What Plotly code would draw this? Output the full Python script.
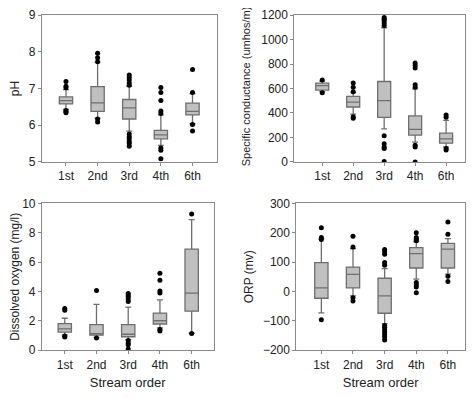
import plotly.graph_objects as go

cats = ["1st", "2nd", "3rd", "4th", "6th"]

# pH
ph_q1 = [6.58, 6.38, 6.17, 5.63, 6.28]
ph_med = [6.67, 6.61, 6.47, 5.74, 6.38]
ph_q3 = [6.77, 7.05, 6.70, 5.86, 6.60]
ph_lo = [6.43, 6.19, 5.84, 5.45, 6.04]
ph_hi = [6.97, 7.71, 7.06, 6.28, 6.86]
ph_out_x = ["1st"]*6 + ["2nd"]*5 + ["3rd"]*11 + ["4th"]*8 + ["6th"]*4
ph_out_y = [7.19, 7.06, 7.02, 6.40, 6.37, 6.34,
            7.96, 7.84, 7.73, 6.17, 6.09,
            7.37, 7.30, 7.23, 7.15, 7.09, 5.76, 5.69, 5.63, 5.56, 5.50, 5.43,
            7.03, 6.89, 6.67, 6.39, 6.32, 5.38, 5.32, 5.09,
            7.52, 6.89, 6.02, 5.84]

# Specific conductance
sc_q1 = [587, 449, 365, 219, 154]
sc_med = [623, 488, 501, 266, 188]
sc_q3 = [644, 535, 657, 376, 235]
sc_lo = [575, 391, 271, 162, 123]
sc_hi = [660, 566, 1096, 597, 339]
sc_out_x = ["1st"]*2 + ["2nd"]*5 + ["3rd"]*10 + ["4th"]*8 + ["6th"]*4
sc_out_y = [670, 565,
            644, 610, 574, 370, 357,
            1179, 1166, 1153, 1135, 1114, 214, 149, 123, 110, 5,
            809, 788, 767, 631, 610, 136, 123, 0,
            384, 365, 110, 97]

# Dissolved oxygen
do_q1 = [1.24, 1.03, 0.92, 1.79, 2.66]
do_med = [1.46, 1.14, 1.09, 2.01, 3.89]
do_q3 = [1.81, 1.75, 1.75, 2.53, 6.88]
do_lo = [1.05, 0.87, 0.72, 1.53, 1.16]
do_hi = [2.18, 3.12, 2.93, 3.43, 8.89]
do_out_x = ["1st"]*4 + ["2nd"]*2 + ["3rd"]*9 + ["4th"]*6 + ["6th"]*2
do_out_y = [2.84, 2.73, 0.98, 0.90,
            4.06, 0.84,
            3.86, 3.76, 3.65, 3.49, 3.32, 0.66, 0.50, 0.37, 0.09,
            5.24, 4.76, 4.04, 3.89, 1.42, 1.31,
            9.28, 1.14]

# ORP
orp_q1 = [-23, 12, -74, 80, 80]
orp_med = [12, 58, -15, 129, 144]
orp_q3 = [98, 83, 45, 149, 164]
orp_lo = [-73, -15, -109, 42, 59]
orp_hi = [179, 146, 78, 170, 180]
orp_out_x = ["1st"]*4 + ["2nd"]*4 + ["3rd"]*12 + ["4th"]*8 + ["6th"]*4
orp_out_y = [217, 184, 177, -96,
             188, 151, -21, -32,
             143, 136, 127, 99, 89, -116, -122, -130, -138, -146, -155, -165,
             200, 184, 178, 173, 31, 23, 15, -4,
             236, 195, 52, 34]

FONT = "Liberation Sans, Arial, sans-serif"
BOX_FILL = "#c0c0c0"
BOX_LINE = "#6e6e6e"
FRAME = "#8a8a8a"

# The page body has an 8px margin, so the figure is 16px smaller than the window.
W, H = 458, 382


def xd(a, b):
    return [max(0, (a - 8) / W), min(1, (b - 8) / W)]


def yd(top, bottom):
    return [max(0, 1 - (bottom - 8) / H), min(1, 1 - (top - 8) / H)]


panels = [
    dict(q1=ph_q1, med=ph_med, q3=ph_q3, lo=ph_lo, hi=ph_hi, ox=ph_out_x, oy=ph_out_y,
         xd=xd(42, 217), yd=yd(7, 161), xr=[-0.76, 4.76],
         yr=[5, 9], dt=1, title="pH", xtitle=None),
    dict(q1=sc_q1, med=sc_med, q3=sc_q3, lo=sc_lo, hi=sc_hi, ox=sc_out_x, oy=sc_out_y,
         xd=xd(295, 472), yd=yd(7, 161), xr=[-0.9, 4.61],
         yr=[0, 1200], dt=200, title=None, xtitle=None),
    dict(q1=do_q1, med=do_med, q3=do_q3, lo=do_lo, hi=do_hi, ox=do_out_x, oy=do_out_y,
         xd=xd(42, 214), yd=yd(204, 357), xr=[-0.72, 4.69],
         yr=[0, 10], dt=2, title="Dissolved oxygen (mg/l)", xtitle="Stream order"),
    dict(q1=orp_q1, med=orp_med, q3=orp_q3, lo=orp_lo, hi=orp_hi, ox=orp_out_x, oy=orp_out_y,
         xd=xd(297, 472), yd=yd(204, 357), xr=[-0.79, 4.54],
         yr=[-200, 300], dt=100, title="ORP (mv)", xtitle="Stream order"),
]

fig = go.Figure()
layout = dict(
    width=W, height=H,
    margin=dict(l=0, r=0, t=0, b=0),
    paper_bgcolor="white", plot_bgcolor="white",
    showlegend=False,
    boxgap=0.4,
    font=dict(family=FONT, size=12, color="#222222"),
)

for i, p in enumerate(panels):
    n = "" if i == 0 else str(i + 1)
    xa, ya = "x" + n, "y" + n
    fig.add_trace(go.Box(
        x=cats, q1=p["q1"], median=p["med"], q3=p["q3"],
        lowerfence=p["lo"], upperfence=p["hi"],
        fillcolor=BOX_FILL, line=dict(color=BOX_LINE, width=1.3),
        whiskerwidth=0.45, boxpoints=False,
        xaxis=xa, yaxis=ya, hoverinfo="skip",
    ))
    fig.add_trace(go.Scatter(
        x=p["ox"], y=p["oy"], mode="markers",
        marker=dict(color="black", size=5),
        xaxis=xa, yaxis=ya, hoverinfo="skip",
    ))
    layout["xaxis" + n] = dict(
        domain=p["xd"], anchor=ya, type="category",
        categoryorder="array", categoryarray=cats,
        range=p["xr"], showline=True, linecolor=FRAME, linewidth=1, mirror=True,
        ticks="outside", ticklen=3, tickcolor=FRAME, showgrid=False, zeroline=False,
        tickfont=dict(size=12),
        title=dict(text=p["xtitle"], font=dict(size=13), standoff=9) if p["xtitle"] else None,
    )
    layout["yaxis" + n] = dict(
        domain=p["yd"], anchor=xa, range=p["yr"], dtick=p["dt"],
        showline=True, linecolor=FRAME, linewidth=1, mirror=True,
        ticks="outside", ticklen=3, tickcolor=FRAME, showgrid=False, zeroline=False,
        tickfont=dict(size=12),
        title=dict(text=p["title"], font=dict(size=12), standoff=6) if p["title"] else None,
    )

# Long y title of the conductance panel, placed so it stays inside the page
layout["annotations"] = [dict(
    text="Specific conductance (umhos/m)", textangle=-90, showarrow=False,
    xref="paper", yref="paper", x=(246 - 8) / W, y=1 - (167 - 8) / H,
    xanchor="center", yanchor="bottom", font=dict(size=11),
)]

fig.update_layout(**layout)
fig.write_html("out.html")
